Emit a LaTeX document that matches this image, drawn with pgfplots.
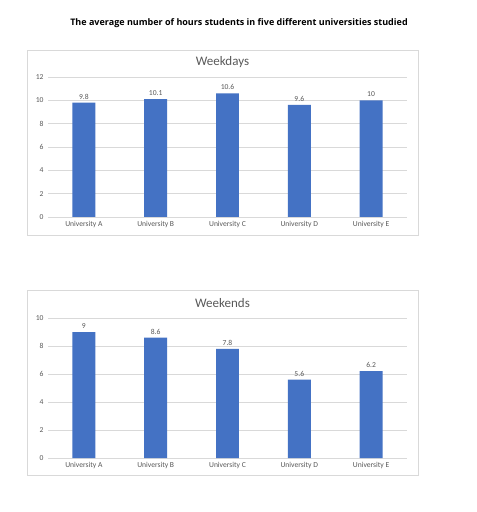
\documentclass[border=0pt]{standalone}
\usepackage{pgfplots}
\pgfplotsset{compat=1.18}
\usepackage{fontspec}
\setmainfont{Carlito}
\newfontfamily\titlefont{Open Sans}
\definecolor{barblue}{HTML}{4472C4}
\definecolor{txtgray}{HTML}{595959}
\definecolor{gridgray}{HTML}{D9D9D9}
\pgfplotsset{
  uni/.style={
    scale only axis, width=359pt, height=140pt,
    ybar, bar width=0.32, xmin=-0.5, xmax=4.5,
    xtick={0,1,2,3,4},
    xticklabels={University A,University B,University C,University D,University E},
    ymin=0, ymajorgrids, grid style={draw=gridgray, line width=0.6pt},
    separate axis lines,
    axis x line*=bottom, axis y line*=left,
    y axis line style={draw=none},
    x axis line style={draw=gridgray, line width=0.6pt, -},
    major tick length=0pt,
    tick label style={font=\fontsize{7.6}{8}\selectfont, text=txtgray},
    /pgf/number format/assume math mode=true,
    yticklabel style={xshift=-1pt},
    xticklabel style={yshift=-0.5pt},
    nodes near coords,
    every node near coord/.append style={font=\fontsize{7.6}{8}\selectfont, text=txtgray, /pgf/number format/assume math mode=true},
    clip=false,
  }
}
\begin{document}
\begin{tikzpicture}[x=1pt,y=1pt]
\fill[white] (0,0) rectangle (477,512);
\node[font=\titlefont\bfseries\fontsize{9.0}{11}\selectfont] at (239,488.5) {The average number of hours students in five different universities studied};
% top chart box
\draw[gridgray, line width=0.6pt] (27,277) rectangle (418,462);
\node[font=\fontsize{13}{15}\selectfont, text=txtgray] at (222.5,450) {Weekdays};
\begin{axis}[uni, at={(48pt,295pt)}, anchor=south west, ymax=12, ytick={0,2,4,6,8,10,12}]
\addplot[fill=barblue, draw=none] coordinates {(0,9.8) (1,10.1) (2,10.6) (3,9.6) (4,10)};
\end{axis}
% bottom chart box
\draw[gridgray, line width=0.6pt] (27,37) rectangle (418,222);
\node[font=\fontsize{13}{15}\selectfont, text=txtgray] at (222.5,209) {Weekends};
\begin{axis}[uni, at={(48pt,54pt)}, anchor=south west, ymax=10, ytick={0,2,4,6,8,10}]
\addplot[fill=barblue, draw=none] coordinates {(0,9) (1,8.6) (2,7.8) (3,5.6) (4,6.2)};
\end{axis}
\end{tikzpicture}
\end{document}
